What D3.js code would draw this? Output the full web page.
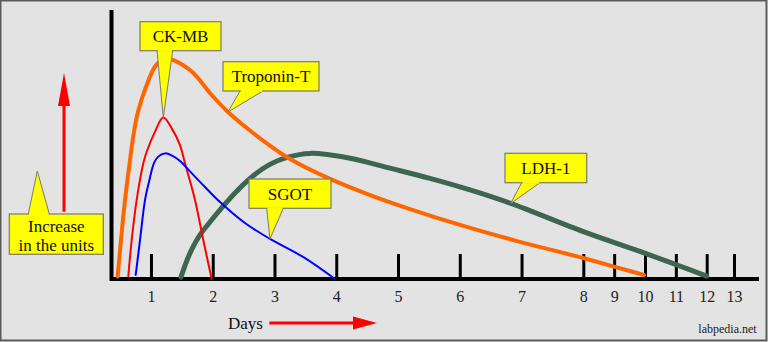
<!DOCTYPE html>
<html><head><meta charset="utf-8">
<script src="https://cdn.jsdelivr.net/npm/d3@7/dist/d3.min.js"></script>
<style>
html,body{margin:0;padding:0;background:#fff;}
svg{display:block;}
</style></head>
<body><svg id="c" width="768" height="342"></svg>
<script>
// ---- data (x = days, y = relative increase in units) ----
const dayTicks = [1,2,3,4,5,6,7,8,9,10,11,12,13];
const troponinDays = [0.461,0.515,0.580,0.661,0.709,0.790,0.931,1.065,1.211,1.362,1.660,1.983,2.247,2.603,2.927,3.251,3.899,4.547,5.194,6.004,6.927,8.0,8.995,9.968];
const troponinVals = [0.9,14.5,29.4,44.2,52.4,62.2,72.1,78.9,82.0,81.4,77.1,68.4,62.1,55.2,49.6,44.6,37.2,31.2,26.0,20.1,14.1,7.8,4.6,1.5];
const ckmbDays = [0.633,0.688,0.769,0.876,0.931,1.066,1.200,1.336,1.470,1.551,1.713,1.847,1.983];
const ckmbVals = [1.1,14.5,29.4,43.0,47.3,54.8,60.0,56.0,49.8,43.0,29.4,14.5,0];
const sgotDays = [0.753,0.823,0.904,0.968,1.049,1.114,1.228,1.341,1.470,1.632,1.875,2.118,2.522,2.927,3.462,3.980];
const sgotVals = [1.5,14.5,29.4,36.1,43.1,45.4,46.7,45.9,43.9,40.0,34.2,28.6,20.8,14.9,8.2,0];
const ldhDays = [1.486,1.567,1.665,1.794,1.956,2.118,2.361,2.652,2.927,3.203,3.575,4.223,4.870,5.518,6.166,6.825,8.023,9.968,11.037,12.0];
const ldhVals = [0.7,6.0,11.2,16.4,21.2,25.7,32.0,38.3,42.6,45.2,46.7,44.9,41.2,37.4,33.1,28.1,17.5,9.7,5.2,1.1];
const seriesNames = ["Troponin-T","CK-MB","SGOT","LDH-1"];
const calloutLabels = ["CK-MB","Troponin-T","SGOT","LDH-1"];
const calloutTipDays = [1.200,2.247,2.927,6.825];
const calloutTipVals = [60.0,62.1,14.9,28.1];
const yAxisLabel = ["Increase","in the units"];
const xAxisLabel = "Days";
const credit = "labpedia.net";

const FONT = "'Liberation Serif','Times New Roman',serif";
const svg = d3.select("#c");
svg.append("rect").attr("x",0.5).attr("y",0.5).attr("width",766).attr("height",340)
  .attr("fill","#e3e3e3").attr("stroke","#5a5a5a").attr("stroke-width",2);

// scales: non-uniform day spacing as in the original drawing
const x = d3.scaleLinear().domain([0,8,12,13]).range([89.2,583.3,706.7,734]);
const y = d3.scaleLinear().domain([0,100]).range([279,10]);

const axis = d3.axisBottom(x).tickValues(dayTicks).tickSize(-25).tickPadding(12).tickFormat(d3.format("d"));
const gx = svg.append("g").attr("transform","translate(0,279)").call(axis);
gx.attr("font-family",FONT);
gx.select(".domain").remove();
gx.selectAll(".tick line").attr("stroke","#000").attr("stroke-width",3);
gx.selectAll(".tick text").attr("font-size",16).attr("fill","#222").attr("font-family",FONT);

svg.append("line").attr("x1",110).attr("x2",759).attr("y1",279).attr("y2",279).attr("stroke","#000").attr("stroke-width",4);
svg.append("line").attr("x1",111.5).attr("x2",111.5).attr("y1",10).attr("y2",281).attr("stroke","#000").attr("stroke-width",4);

const line = d3.line().x(d=>x(d[0])).y(d=>y(d[1])).curve(d3.curveCatmullRom.alpha(0.5));
const curves = [
  {name:seriesNames[3], days:ldhDays, vals:ldhVals, color:"#3d6650", w:5},
  {name:seriesNames[0], days:troponinDays, vals:troponinVals, color:"#ff6600", w:4},
  {name:seriesNames[1], days:ckmbDays, vals:ckmbVals, color:"#ff0000", w:2},
  {name:seriesNames[2], days:sgotDays, vals:sgotVals, color:"#0000ff", w:2}
];
curves.forEach(c=>{
  svg.append("path").datum(c.days.map((d,i)=>[d,c.vals[i]]))
    .attr("d",line).attr("fill","none").attr("stroke",c.color)
    .attr("stroke-width",c.w).attr("stroke-linecap","round");
});

const boxes = [
  {b:[140,21.7,221,50.7], base:[157,172.7]},
  {b:[223,61.7,319,91], base:[240,263]},
  {b:[249,179,331,208.3], base:[266.7,283.3]},
  {b:[505,153.3,586.7,182.7], base:[521.7,540]}
];
function addText(g, xx, yy, t, size){
  return g.append("text").attr("x",xx).attr("y",yy).attr("dy","0.35em")
    .attr("text-anchor","middle").attr("font-size",size).attr("font-family",FONT)
    .attr("fill","#111").text(t);
}
function callout(b, base, tip, lines){
  const [x0,y0,x1,y1] = b;
  const g = svg.append("g");
  g.append("path").attr("d",`M${base[0]},${y1}L${tip[0]},${tip[1]}L${base[1]},${y1}`)
    .attr("fill","#ffff00").attr("stroke","#7a7a6a").attr("stroke-width",1);
  g.append("rect").attr("x",x0).attr("y",y0).attr("width",x1-x0).attr("height",y1-y0)
    .attr("fill","#ffff00").attr("stroke","#7a7a6a").attr("stroke-width",1.2);
  g.append("path").attr("d",`M${base[0]+0.8},${y1}L${base[1]-0.8},${y1}`)
    .attr("stroke","#ffff00").attr("stroke-width",2);
  const cx=(x0+x1)/2, cy=(y0+y1)/2, lh=19;
  lines.forEach((t,i)=> addText(g, cx, cy+(i-(lines.length-1)/2)*lh, t, 17));
}
calloutLabels.forEach((lab,i)=>{
  const bx = boxes[i];
  callout(bx.b, bx.base, [x(calloutTipDays[i]), y(calloutTipVals[i])], [lab]);
});
(function(){
  const g = svg.append("g");
  g.append("path").attr("d","M28.3,214L37.3,171L49.3,214").attr("fill","#ffff00").attr("stroke","#7a7a6a").attr("stroke-width",1);
  g.append("rect").attr("x",9.3).attr("y",214).attr("width",94).attr("height",40.3)
    .attr("fill","#ffff00").attr("stroke","#7a7a6a").attr("stroke-width",1.2);
  g.append("path").attr("d","M29.1,214L48.5,214").attr("stroke","#ffff00").attr("stroke-width",2);
  yAxisLabel.forEach((t,i)=> addText(g, 56.3, 226+i*19.3, t, 17));
})();

svg.append("line").attr("x1",64).attr("x2",64).attr("y1",211.7).attr("y2",106).attr("stroke","#ff0000").attr("stroke-width",3);
svg.append("path").attr("d","M58,106L64,73L70,106Z").attr("fill","#ff0000");
svg.append("line").attr("x1",269.3).attr("x2",354).attr("y1",323).attr("y2",323).attr("stroke","#ff0000").attr("stroke-width",3);
svg.append("path").attr("d","M353,316.5L377,323L353,329.5Z").attr("fill","#ff0000");

addText(svg, 245.5, 323, xAxisLabel, 17);
addText(svg, 727.5, 329, credit, 12).attr("fill","#222");
</script></body></html>
